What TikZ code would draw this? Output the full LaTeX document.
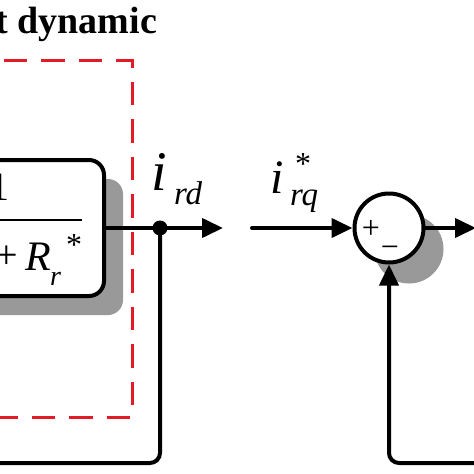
\documentclass[tikz,border=0pt]{standalone}
\usepackage{fontspec}
\setmainfont{Liberation Serif}
\usetikzlibrary{arrows.meta,shadows}
\definecolor{dashred}{RGB}{225,28,38}
\definecolor{shadegray}{RGB}{153,153,153}
\tikzset{
  wire/.style={line width=4pt, line cap=round},
  arr/.style={line width=4pt, line cap=round, -{Triangle[length=21pt,width=19pt]}},
  blockbox/.style={draw, line width=4pt, rounded corners=15pt, fill=white,
    minimum width=148pt, minimum height=136pt, inner sep=0pt, outer sep=0pt,
    drop shadow={shadow xshift=19pt, shadow yshift=-19pt, fill=shadegray, opacity=1}},
  sumnode/.style={draw, circle, line width=4pt, fill=white, minimum size=69pt,
    inner sep=0pt, outer sep=2pt,
    drop shadow={shadow xshift=20pt, shadow yshift=-21pt, fill=shadegray, opacity=1}},
  jdot/.style={circle, fill=black, minimum size=15pt, inner sep=0pt},
  lbl/.style={inner sep=0pt, outer sep=0pt},
  redbox/.style={draw=dashred, line width=3pt, dash pattern=on 23.5pt off 14pt},
}
\begin{document}
\begin{tikzpicture}[x=1pt,y=-1pt]
\useasboundingbox (0,0) rectangle (474,474);
\clip (0,0) rectangle (474,474);
% title
\node[lbl, anchor=base east, font=\fontsize{38}{42}\selectfont\bfseries] (title) at (157,33) {t dynamic};
% red dashed frame
\draw[redbox] (-34,60) -| (132,417) -- (-20,417);
% block
\node[blockbox] (blk) at (30,228) {};
\draw[line width=2pt] (-10,220) -- (82,220);
\node[lbl, anchor=base, font=\fontsize{40}{44}\selectfont] (num) at (0,200) {1};
\node[lbl, anchor=base, font=\fontsize{40}{44}\selectfont] (plus) at (7,268) {+};
\node[lbl, anchor=base west, font=\fontsize{42}{46}\selectfont\itshape] (R) at (25,270) {R};
\node[lbl, anchor=base west, font=\fontsize{28}{32}\selectfont\itshape] (Rsub) at (50,285) {r};
\node[lbl, anchor=base west, font=\fontsize{32}{36}\selectfont] (Rsup) at (66,255) {*};
% junction and output
\node[jdot] (jd) at (160,228) {};
\coordinate (ordout) at (223,228);
\draw[wire] (blk.east) -- (jd);
\draw[arr] (jd) -- (ordout);
\coordinate (fbl) at (-10,463);
\draw[wire, rounded corners=10pt] (jd) |- (fbl);
% i_rd label
\node[lbl, anchor=base west, font=\fontsize{56}{60}\selectfont\itshape] (ird) at (151,190) {i};
\node[lbl, anchor=base west, font=\fontsize{33}{36}\selectfont\itshape] (irdsub) at (174,204) {rd};
% summing junction
\node[sumnode] (sum) at (389,228) {};
\node[lbl, font=\fontsize{32}{36}\selectfont] (sp) at (371,229) {+};
\node[lbl, font=\fontsize{32}{36}\selectfont] (sm) at (390,252) {−};
\coordinate (irqin) at (252,228);
\draw[arr] (irqin) -- (sum.west);
\coordinate (sumout) at (476,228);
\draw[arr] (sum.east) -- (sumout);
\coordinate (fbr) at (480,463);
\draw[arr, rounded corners=10pt] (fbr) -| (sum.south);
% i_rq* label
\node[lbl, anchor=base west, font=\fontsize{48}{52}\selectfont\itshape] (irq) at (270,193) {i};
\node[lbl, anchor=base west, font=\fontsize{33}{36}\selectfont\itshape] (irqsub) at (290,205) {rq};
\node[lbl, anchor=base west, font=\fontsize{32}{36}\selectfont] (irqsup) at (295,174) {*};
\end{tikzpicture}
\end{document}
